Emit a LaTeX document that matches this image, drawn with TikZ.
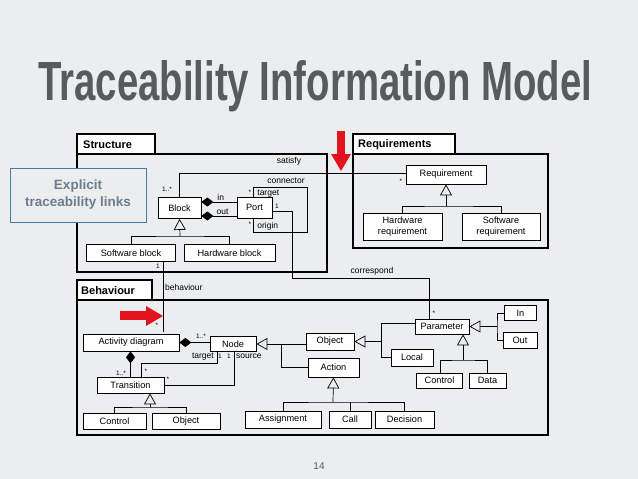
\documentclass[tikz,border=0pt]{standalone}
\usepackage{fontspec}
\setmainfont{Liberation Sans}
\usetikzlibrary{arrows.meta}
\definecolor{bg}{RGB}{236,237,239}
\definecolor{ttl}{RGB}{88,90,94}
\definecolor{lnk}{RGB}{70,120,170}
\definecolor{lnktxt}{RGB}{110,125,140}
\definecolor{redar}{RGB}{225,20,30}
\begin{document}
\begin{tikzpicture}[x=1pt,y=-1pt,
  box/.style={draw,fill=white,line width=0.8pt,inner sep=0pt,font=\fontsize{9.2}{10.5}\selectfont},
  pkg/.style={draw,line width=1.4pt},
  tab/.style={draw,line width=1.4pt,fill=white},
  tabt/.style={inner sep=0pt,font=\bfseries\fontsize{11}{12}\selectfont,anchor=west},
  ln/.style={line width=0.7pt},
  lbl/.style={font=\fontsize{8.5}{10}\selectfont,inner sep=0pt},
  sm/.style={font=\fontsize{6.5}{7}\selectfont,inner sep=0pt},
  gen/.style={ln,-{Triangle[open,width=12pt,length=11pt]}},
  comp/.style={ln,{Diamond[width=9pt,length=12pt]}-}]
\fill[bg] (0,0) rectangle (638,479);
\useasboundingbox (0,0) rectangle (638,479);
\node[text=ttl,anchor=base west,inner sep=0pt] (title) at (38,100) {\resizebox{554pt}{40pt}{\textbf{Traceability Information Model}}};
\node[font=\fontsize{10}{12}\selectfont,text=ttl] (pg) at (319,466) {14};
% packages
\draw[pkg] (77,154) rectangle (327,272);
\draw[tab] (77,134) rectangle (155,154);
\node[tabt] (tS) at (83,144.5) {Structure};
\draw[pkg] (353,154) rectangle (548,248);
\draw[tab] (353,134) rectangle (455,154);
\node[tabt] (tR) at (358,144.5) {Requirements};
\draw[pkg] (77,300) rectangle (548,435);
\draw[tab] (77,280) rectangle (152,300);
\node[tabt] (tB) at (81,290.5) {Behaviour};
% structure nodes
\node[box,minimum width=43pt,minimum height=21pt] (block) at (179.5,208) {Block};
\draw[ln] (253,187) rectangle (307,232);
\node[box,draw=none,fill=none,anchor=west,font=\fontsize{8.5}{10}\selectfont] (tg) at (257,194) {target};
\node[box,draw=none,fill=none,anchor=west,font=\fontsize{8.5}{10}\selectfont] (org) at (257,226) {origin};
\node[box,minimum width=35pt,minimum height=21pt] (port) at (254.5,207.5) {Port};
\node[box,minimum width=89pt,minimum height=17pt] (sw) at (131,253) {Software block};
\node[box,minimum width=91pt,minimum height=17pt] (hw) at (229.5,253) {Hardware block};
\draw[comp] (block.east|-0,202) -- node[lbl,above=1pt,pos=0.55]{in} (port.west|-0,202);
\draw[comp] (block.east|-0,216) -- node[lbl,above=1pt,pos=0.6]{out} (port.west|-0,216);
\coordinate (gS) at (180,236);
\draw[gen] (gS) -- (block.south);
\draw[ln] (sw.north) |- (gS) -| (hw.north);
\node[lbl] at (286,181) {connector};
\node[sm] at (167,189) {1..*};
\node[sm] at (250,192) {*};
\node[sm] at (250,224) {*};
\node[sm] at (277,206) {1};
\node[lbl] at (289,161) {satisfy};
% requirements
\node[box,minimum width=80pt,minimum height=19pt] (req) at (446,174.5) {Requirement};
\node[box,minimum width=79pt,minimum height=27pt,align=center] (hreq) at (402.5,226.5) {Hardware\\requirement};
\node[box,minimum width=78pt,minimum height=27pt,align=center] (sreq) at (501,226.5) {Software\\requirement};
\coordinate (gR) at (446,206);
\draw[gen] (gR) -- (req.south);
\draw[ln] (hreq.north) |- (gR) -| (sreq.north);
\draw[ln] (block.north) |- (req.west|-0,173);
\node[sm] at (401,181) {*};
% behaviour
\node[box,minimum width=96pt,minimum height=17pt] (act) at (131,342.5) {Activity diagram};
\node[box,minimum width=46pt,minimum height=15pt] (node) at (233,344) {Node};
\node[box,minimum width=67pt,minimum height=16pt] (tr) at (130.5,385) {Transition};
\node[box,minimum width=63pt,minimum height=16pt] (ctl) at (114.5,421) {Control};
\node[box,minimum width=68pt,minimum height=16pt] (obj) at (186,421) {Object};
\node[box,minimum width=48pt,minimum height=17pt] (bobj) at (330,341.5) {Object};
\node[box,minimum width=51pt,minimum height=19pt] (actn) at (333.5,367.5) {Action};
\node[box,minimum width=76pt,minimum height=17pt] (asg) at (283,419.5) {Assignment};
\node[box,minimum width=42pt,minimum height=17pt] (call) at (350,419.5) {Call};
\node[box,minimum width=59pt,minimum height=17pt] (dec) at (404.5,419.5) {Decision};
\node[box,minimum width=54pt,minimum height=15pt] (par) at (442,326.5) {Parameter};
\node[box,minimum width=42pt,minimum height=17pt] (loc) at (412,357.5) {Local};
\node[box,minimum width=32pt,minimum height=15pt] (in) at (520.5,313) {In};
\node[box,minimum width=34pt,minimum height=16pt] (out) at (520,340) {Out};
\node[box,minimum width=46pt,minimum height=15pt] (pc) at (439.5,380.5) {Control};
\node[box,minimum width=37pt,minimum height=15pt] (pd) at (487.5,380.5) {Data};
% behaviour links
\draw[comp] (act.east) -- (node.west|-act.east);
\node[sm] at (201,336) {1..*};
\draw[comp] (act.south-|tr.north) -- (tr.north);
\node[sm] at (121,373) {1..*};
\draw[ln] (217,351.5) |- (141,363) -- (141,377);
\node[sm] at (146,371) {*};
\draw[ln] (234,351.5) |- (tr.east|-0,385);
\node[sm] at (168,379) {*};
\node[lbl,anchor=east] at (214,356.5) {target};
\node[sm] at (220,356.5) {1};
\node[sm] at (229,356.5) {1};
\node[lbl,anchor=west] at (236,356.5) {source};
\coordinate (gT) at (150,407);
\draw[gen] (gT) -- (tr.south-|gT);
\draw[ln] (ctl.north) |- (gT) -| (obj.north);
\coordinate (gN) at (281,344);
\draw[gen] (bobj.west|-gN) -- (node.east);
\draw[ln] (gN) |- (actn.west);
\coordinate (gA) at (333,402);
\draw[gen] (gA) -- (actn.south);
\draw[ln] (asg.north) |- (gA) -| (dec.north);
\draw[ln] (call.north) -- (call.north|-gA);
\coordinate (gO) at (381,341.5);
\draw[gen] (gO) -- (bobj.east);
\draw[ln] (par.west|-0,323) -| (381,357.5) -- (loc.west);
\coordinate (gP) at (497,326.5);
\draw[gen] (gP) -- (par.east);
\draw[ln] (in.west) -| (gP) |- (out.west);
\coordinate (gQ) at (463,360);
\draw[gen] (gQ) -- (par.south-|gQ);
\draw[ln] (pc.north-|440,0) |- (gQ) -| (pd.north);
% traceability links
\draw[ln] (sw.south-|163,0) -- (163,332);
\node[sm] at (158,266) {1};
\node[lbl,anchor=west] at (165,287) {behaviour};
\node[sm] at (157,325) {*};
\draw[ln] (port.east|-0,211) -| (292,278) -| (par.north-|429,0);
\node[lbl] at (372,271) {correspond};
\node[sm] at (434,313) {*};
% callout
\draw[lnk,line width=0.8pt,fill=bg] (10,168) rectangle (146,222);
\node[text=lnktxt,font=\bfseries\fontsize{13.5}{17}\selectfont,align=center] (exp) at (78,195) {Explicit\\traceability links};
% red arrows
\fill[redar] (337,131) rectangle (345,154);
\fill[redar] (331,154) -- (351,154) -- (341,171) -- cycle;
\fill[redar] (120,311) rectangle (146,320);
\fill[redar] (146,306) -- (146,326) -- (163,316) -- cycle;
\end{tikzpicture}
\end{document}
